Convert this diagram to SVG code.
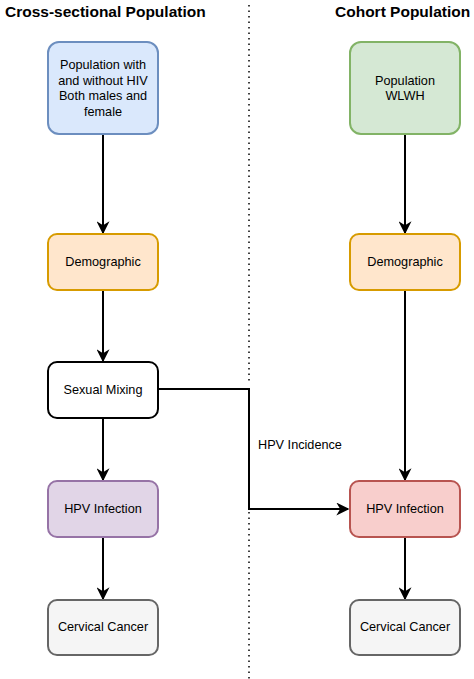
<svg xmlns="http://www.w3.org/2000/svg" width="474" height="679" viewBox="0 0 474 679">
<style>
.n{stroke-width:2}
.t{font-family:"Liberation Sans",Arial,sans-serif;font-size:12.7px;fill:#000;text-anchor:middle;dominant-baseline:central}
.h{font-family:"Liberation Sans",Arial,sans-serif;font-size:15.5px;font-weight:bold;fill:#000}
.c{fill:none;stroke:#000;stroke-width:2}
</style>
<defs>
<marker id="a" viewBox="0 0 10 10" refX="9" refY="5" markerWidth="6.5" markerHeight="6.5" orient="auto" markerUnits="strokeWidth">
<path d="M0,0 L10,5 L0,10 L3,5 Z" fill="#000"/>
</marker>
</defs>
<rect width="474" height="679" fill="#fff"/>
<text class="h" x="5" y="17">Cross-sectional Population</text>
<text class="h" x="335" y="17">Cohort Population</text>
<g id="divider" stroke="#000" stroke-width="1.5" stroke-dasharray="1.5 4" fill="none">
<line x1="249" y1="5" x2="249" y2="384"/>
<line x1="249" y1="512" x2="249" y2="679"/>
</g>
<g id="connectors">
<path class="c" d="M103,134 V233" marker-end="url(#a)"/>
<path class="c" d="M103,290 V361" marker-end="url(#a)"/>
<path class="c" d="M103,418 V480" marker-end="url(#a)"/>
<path class="c" d="M103,537 V599" marker-end="url(#a)"/>
<path class="c" d="M405,134 V233" marker-end="url(#a)"/>
<path class="c" d="M405,290 V480" marker-end="url(#a)"/>
<path class="c" d="M405,537 V599" marker-end="url(#a)"/>
<path class="c" d="M158,389 H249 V509 H348" marker-end="url(#a)"/>
<text class="t" x="258" y="445" style="text-anchor:start">HPV Incidence</text>
</g>
<g id="pop-cross">
<rect class="n" x="48" y="42" width="110" height="92" rx="11" fill="#dae8fc" stroke="#6c8ebf"/>
<text class="t" x="103" y="65">Population with</text>
<text class="t" x="103" y="80.5">and without HIV</text>
<text class="t" x="103" y="96">Both males and</text>
<text class="t" x="103" y="111.5">female</text>
</g>
<g id="pop-cohort">
<rect class="n" x="350" y="42" width="110" height="92" rx="11" fill="#d5e8d4" stroke="#82b366"/>
<text class="t" x="405" y="81">Population</text>
<text class="t" x="405" y="96">WLWH</text>
</g>
<g id="demo-cross">
<rect class="n" x="48" y="234" width="110" height="56" rx="9" fill="#ffe6cc" stroke="#d79b00"/>
<text class="t" x="103" y="262">Demographic</text>
</g>
<g id="demo-cohort">
<rect class="n" x="350" y="234" width="110" height="56" rx="9" fill="#ffe6cc" stroke="#d79b00"/>
<text class="t" x="405" y="262">Demographic</text>
</g>
<g id="mixing">
<rect class="n" x="48" y="362" width="110" height="56" rx="9" fill="#fff" stroke="#000"/>
<text class="t" x="103" y="390">Sexual Mixing</text>
</g>
<g id="hpv-cross">
<rect class="n" x="48" y="481" width="110" height="56" rx="9" fill="#e1d5e7" stroke="#9673a6"/>
<text class="t" x="103" y="509">HPV Infection</text>
</g>
<g id="hpv-cohort">
<rect class="n" x="350" y="481" width="110" height="56" rx="9" fill="#f8cecc" stroke="#b85450"/>
<text class="t" x="405" y="509">HPV Infection</text>
</g>
<g id="cc-cross">
<rect class="n" x="48" y="600" width="110" height="55" rx="9" fill="#f5f5f5" stroke="#666666"/>
<text class="t" x="103" y="627">Cervical Cancer</text>
</g>
<g id="cc-cohort">
<rect class="n" x="350" y="600" width="110" height="55" rx="9" fill="#f5f5f5" stroke="#666666"/>
<text class="t" x="405" y="627">Cervical Cancer</text>
</g>
</svg>
